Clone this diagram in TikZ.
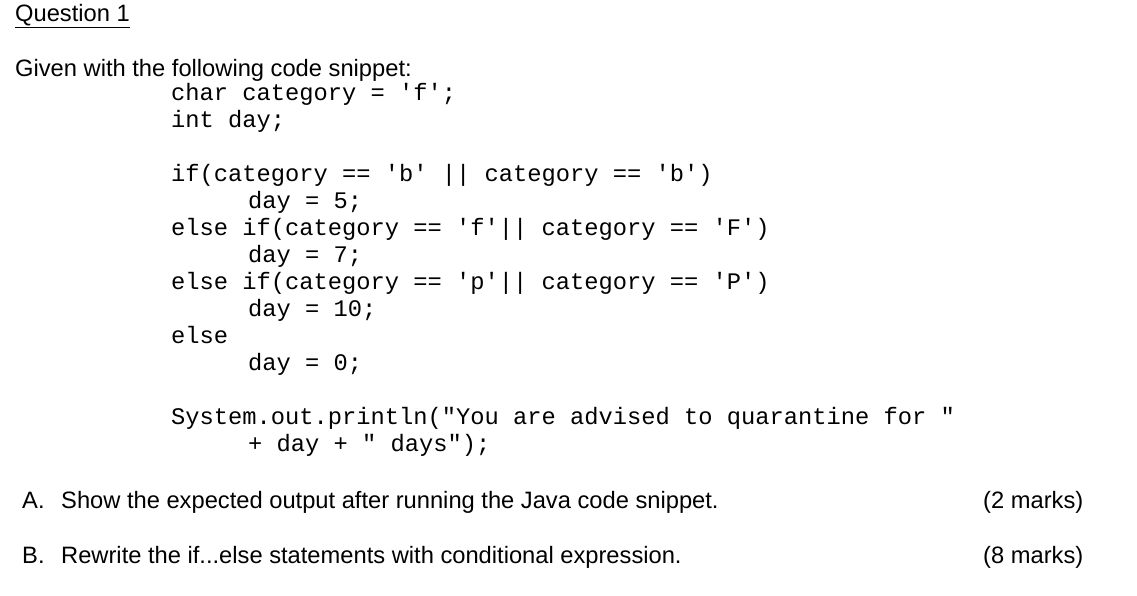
\documentclass[tikz,border=0pt]{standalone}
\usepackage{fontspec}
\setmainfont{Liberation Sans}
\setmonofont{Liberation Mono}
\begin{document}
\begin{tikzpicture}[x=1pt,y=-1pt,
  txt/.style={anchor=base west,inner sep=0pt,font=\fontsize{23.7}{26}\selectfont},
  code/.style={anchor=base west,inner sep=0pt,font=\ttfamily\fontsize{23.75}{27}\selectfont}]
\useasboundingbox[fill=white] (0,0) rectangle (1137,595);
\node[txt] (q) at (15,21) {\underline{Question 1}};
\node[txt] (g) at (15,76) {Given with the following code snippet:};
\node[code] (c1) at (171,100) {char category = 'f';};
\node[code] (c2) at (171,127) {int day;};
\node[code] (c3) at (171,181) {if(category == 'b' || category == 'b')};
\node[code] (c4) at (248,208) {day = 5;};
\node[code] (c5) at (171,235) {else if(category == 'f'|| category == 'F')};
\node[code] (c6) at (248,262) {day = 7;};
\node[code] (c7) at (171,289) {else if(category == 'p'|| category == 'P')};
\node[code] (c8) at (248,316) {day = 10;};
\node[code] (c9) at (171,343) {else};
\node[code] (c10) at (248,370) {day = 0;};
\node[code] (c11) at (171,424) {System.out.println("You are advised to quarantine for "};
\node[code] (c12) at (248,451) {+ day + " days");};
\node[txt] (a) at (22,508) {A.};
\node[txt] (at) at (61,508) {Show the expected output after running the Java code snippet.};
\node[txt] (am) at (983,508) {(2 marks)};
\node[txt] (b) at (22,563) {B.};
\node[txt] (bt) at (61,563) {Rewrite the if...else statements with conditional expression.};
\node[txt] (bm) at (983,563) {(8 marks)};
\end{tikzpicture}
\end{document}
